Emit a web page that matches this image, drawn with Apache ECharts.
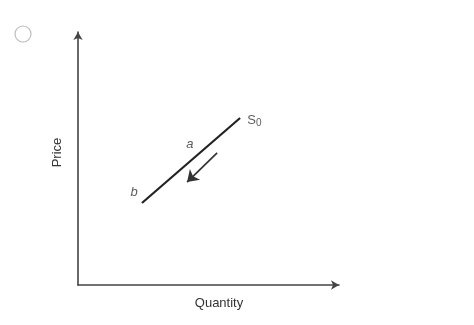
<!DOCTYPE html>
<html><head><meta charset="utf-8">
<script src="https://cdn.jsdelivr.net/npm/echarts@6/dist/echarts.min.js"></script>
<style>html,body{margin:0;padding:0;background:#fff}#c{width:474px;height:325px}</style>
</head><body><div id="c"></div>
<script>
// Arbitrary units (0–10) on both axes
const axisNames = ['Quantity', 'Price'];
const supplyCurve = [[2.45, 3.24], [6.21, 6.60]];      // S0
const movementArrow = [[5.33, 5.22], [4.18, 4.07]];    // movement along S0, from a toward b
const pointLabels = [
  { name: 'S0', value: [6.76, 6.50] },
  { name: 'a', value: [4.29, 5.55] },
  { name: 'b', value: [2.15, 3.66] }
];

const font = 'Liberation Sans, Arial, Helvetica, sans-serif';
const chart = echarts.init(document.getElementById('c'), null, { renderer: 'canvas' });
chart.setOption({
  animation: false,
  backgroundColor: '#fff',
  grid: { left: 78, top: 32, width: 261, height: 253, containLabel: false },
  graphic: [{
    type: 'circle', shape: { cx: 23, cy: 34, r: 8 },
    style: { fill: '#fff', stroke: '#bdbdbd', lineWidth: 1.2 }
  }],
  xAxis: {
    type: 'value', min: 0, max: 10,
    name: axisNames[0], nameLocation: 'middle', nameGap: 12,
    nameTextStyle: { fontFamily: font, fontSize: 13, color: '#333', padding: [0, 0, 0, 21] },
    axisLine: { show: true, lineStyle: { color: '#444', width: 1.6 }, symbol: ['none', 'arrow'], symbolSize: [7, 8] },
    axisTick: { show: false }, axisLabel: { show: false }, splitLine: { show: false }
  },
  yAxis: {
    type: 'value', min: 0, max: 10,
    name: axisNames[1], nameLocation: 'middle', nameGap: 14, nameRotate: 90,
    nameTextStyle: { fontFamily: font, fontSize: 13, color: '#333', padding: [0, 0, 0, 12] },
    axisLine: { show: true, lineStyle: { color: '#444', width: 1.6 }, symbol: ['none', 'arrow'], symbolSize: [7, 8] },
    axisTick: { show: false }, axisLabel: { show: false }, splitLine: { show: false }
  },
  series: [
    {
      type: 'line', data: supplyCurve, showSymbol: false, symbol: 'none',
      lineStyle: { color: '#222', width: 2.2 }, silent: true
    },
    {
      type: 'lines', coordinateSystem: 'cartesian2d', silent: true,
      symbol: ['none', 'arrow'], symbolSize: [10, 11],
      lineStyle: { color: '#333', width: 1.7, opacity: 1 },
      data: [{ coords: movementArrow }]
    },
    {
      type: 'scatter', symbolSize: 0, silent: true,
      data: pointLabels,
      label: {
        show: true, position: 'inside', color: '#333', fontFamily: font,
        formatter: function (p) {
          if (p.name === 'S0') return '{s|S}{sub|0}';
          return '{i|' + p.name + '}';
        },
        rich: {
          s: { fontSize: 13, fontFamily: font, color: '#333', lineHeight: 16, verticalAlign: 'middle' },
          sub: { fontSize: 10, fontFamily: font, color: '#333', lineHeight: 16, verticalAlign: 'bottom', padding: [4, 0, 0, 0] },
          i: { fontSize: 13, fontFamily: font, fontStyle: 'italic', color: '#333' }
        }
      }
    }
  ]
});
</script></body></html>
